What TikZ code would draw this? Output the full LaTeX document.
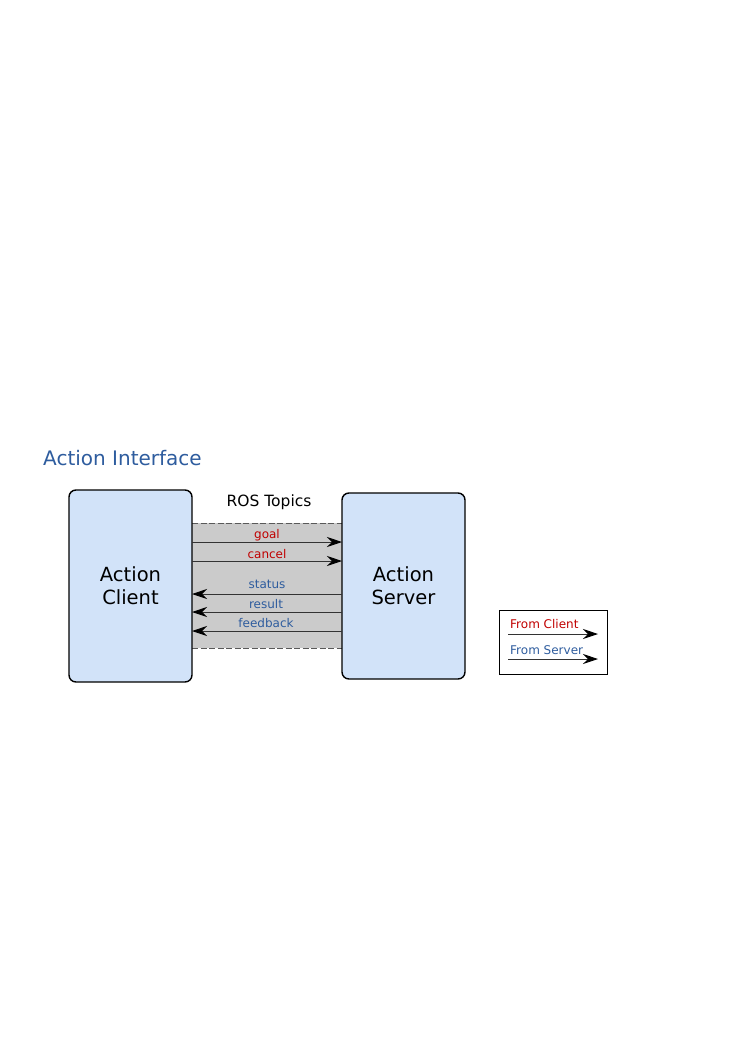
\documentclass[tikz,border=0pt]{standalone}
\usepackage{fontspec}
\setmainfont{DejaVu Sans}
\usetikzlibrary{arrows.meta}
\definecolor{boxblue}{HTML}{D2E3F9}
\definecolor{cred}{HTML}{C00000}
\definecolor{sblue}{HTML}{2E5C9E}
\definecolor{topicgray}{HTML}{CBCBCB}
\tikzset{
  x=1pt,y=-1pt,
  endpoint/.style={draw=black,line width=1.4pt,fill=boxblue,rounded corners=7pt,align=center,font=\fontsize{19.5}{23}\selectfont,inner sep=0pt},
  topic/.style={draw=black!80,line width=0.9pt,-{Stealth[length=15pt,width=10pt,inset=5pt,fill=black,color=black]}},
  clientlbl/.style={text=cred,font=\fontsize{12}{14}\selectfont,inner sep=0pt},
  serverlbl/.style={text=sblue,font=\fontsize{12}{14}\selectfont,inner sep=0pt},
  edge dash/.style={black!65,dash pattern=on 6pt off 2.5pt,line width=0.9pt},
}
\begin{document}
\begin{tikzpicture}
\useasboundingbox (0,0) rectangle (744,1052);
% title
\node[anchor=west,text=sblue,font=\fontsize{20}{24}\selectfont,inner sep=0pt] (title) at (43,458) {Action Interface};
% topic area
\fill[topicgray] (192,523) rectangle (342,648);
\draw[edge dash] (192,523) -- (342,523);
\draw[edge dash] (192,648) -- (342,648);
\node[font=\fontsize{15.5}{18}\selectfont,inner sep=0pt] (ros) at (269,502) {ROS Topics};
% endpoints
\node[endpoint,minimum width=123pt,minimum height=192pt] (client) at (130.5,586) {Action\\Client};
\node[endpoint,minimum width=123pt,minimum height=186pt] (server) at (403.5,586) {Action\\Server};
% coordinates for topic arrows
\coordinate (cg) at (192,542); \coordinate (sg) at (342,542);
\coordinate (cc) at (192,561); \coordinate (sc) at (342,561);
\coordinate (cs) at (192,594); \coordinate (ss) at (342,594);
\coordinate (cr) at (192,612); \coordinate (sr) at (342,612);
\coordinate (cf) at (192,631); \coordinate (sf) at (342,631);
\draw[topic] (cg) -- (sg);
\draw[topic] (cc) -- (sc);
\draw[topic] (ss) -- (cs);
\draw[topic] (sr) -- (cr);
\draw[topic] (sf) -- (cf);
\node[clientlbl] (lgoal) at (267,535) {goal};
\node[clientlbl] (lcancel) at (267,554.5) {cancel};
\node[serverlbl] (lstatus) at (267,584) {status};
\node[serverlbl] (lresult) at (266,604) {result};
\node[serverlbl] (lfeed) at (266,623) {feedback};
% legend
\node[draw=black,line width=0.6pt,minimum width=108pt,minimum height=64pt,inner sep=0pt] (legend) at (553,642) {};
\coordinate (l1a) at (508,634); \coordinate (l1b) at (598,634);
\coordinate (l2a) at (508,659); \coordinate (l2b) at (598,659);
\draw[topic] (l1a) -- (l1b);
\draw[topic] (l2a) -- (l2b);
\node[clientlbl,anchor=west] (lc) at (510,624) {From Client};
\node[serverlbl,anchor=west] (ls) at (510,650) {From Server};
\end{tikzpicture}
\end{document}
